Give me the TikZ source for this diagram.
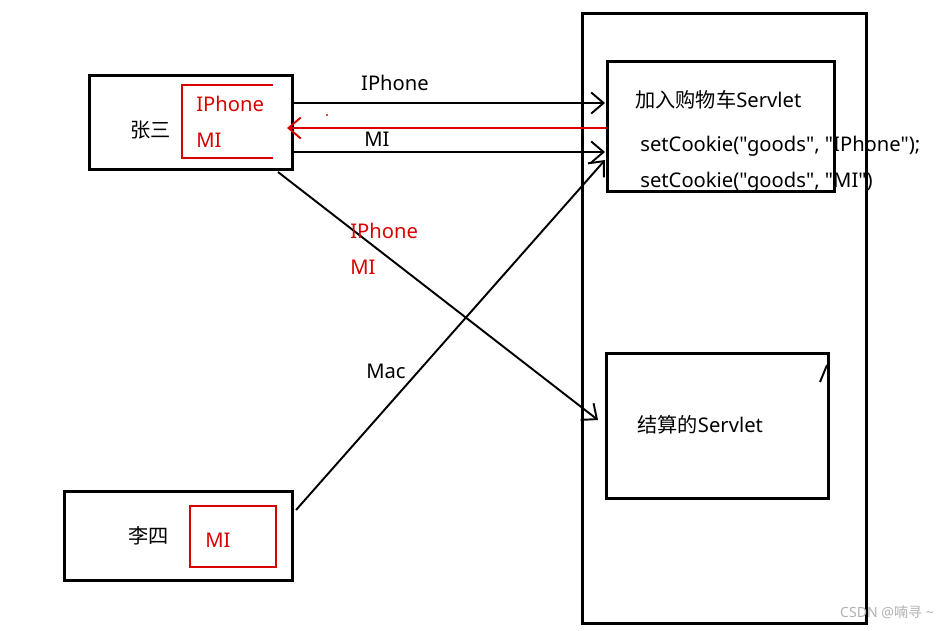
\documentclass[tikz,border=0pt]{standalone}
\usepackage{fontspec}
\setmainfont{Noto Sans}
\newfontfamily\cjk{Noto Sans CJK SC}
\newfontfamily\plainfont{Noto Sans}[Ligatures=ResetAll]
\usetikzlibrary{arrows.meta}
\begin{document}
\begin{tikzpicture}[x=0.02cm,y=-0.02cm,
 box/.style={draw=black,line width=1.7pt},
 rbox/.style={draw=red!85!black,line width=1.1pt},
 con/.style={line width=1.1pt,-{Straight Barb[length=7pt,width=12pt]}},
 lbl/.style={font=\fontsize{11.5}{13}\selectfont,inner sep=0pt},
 rlbl/.style={lbl,text=red!85!black}]
\useasboundingbox (0,0) rectangle (945,630);
\draw[box] (582,13) rectangle (866,623);
\node[box,minimum width=203*0.02cm,minimum height=94*0.02cm,anchor=north west] (zs) at (88,74) {};
\node[lbl,anchor=west] (zst) at (130,130) {\cjk 张三};
\draw[rbox] (273,85) -- (182,85) -- (182,158) -- (273,158);
\node[rlbl,anchor=west] (ip1) at (196,104) {IPhone};
\node[rlbl,anchor=west] (mi1) at (196,140) {MI};
\node[box,minimum width=228*0.02cm,minimum height=89*0.02cm,anchor=north west] (ls) at (63,490) {};
\node[lbl,anchor=west] (lst) at (128,536) {\cjk 李四};
\node[rbox,minimum width=86*0.02cm,minimum height=61*0.02cm,anchor=north west] (lsr) at (189,505) {};
\node[rlbl,anchor=west] (mi2) at (205,540) {MI};
\node[box,minimum width=227*0.02cm,minimum height=130*0.02cm,anchor=north west] (cart) at (606,60) {};
\node[lbl,anchor=west] (ct) at (635,100) {{\cjk 加入购物车}Servlet};
\node[lbl,anchor=west] (sc1) at (640,146) {\plainfont setCookie("goods", "IPhone");};
\node[lbl,anchor=west] (sc2) at (640,182) {\plainfont setCookie("goods", "MI")};
\node[box,minimum width=222*0.02cm,minimum height=145*0.02cm,anchor=north west] (pay) at (605,352) {};
\node[lbl,anchor=west] (pt) at (637,425) {{\cjk 结算的}Servlet};
\draw[line width=1.1pt] (827,365) -- (820,382);
\coordinate (a1) at (293,103); \coordinate (b1) at (605,103);
\draw[con] (a1) -- (b1);
\node[lbl] (l1) at (395,83) {IPhone};
\coordinate (a2) at (607,128); \coordinate (b2) at (287,128);
\draw[con,red!85!black] (a2) -- (b2);
\fill[red!85!black] (327,115) circle (1.2);
\coordinate (a3) at (293,152); \coordinate (b3) at (605,152);
\draw[con] (a3) -- (b3);
\node[lbl] (l3) at (377,139) {MI};
\coordinate (a4) at (278,172); \coordinate (b4) at (598,420);
\draw[con] (a4) -- (b4);
\node[rlbl,anchor=west] (l4a) at (350,231) {IPhone};
\node[rlbl,anchor=west] (l4b) at (350,267) {MI};
\coordinate (a5) at (296,510); \coordinate (b5) at (605,160);
\draw[con] (a5) -- (b5);
\node[lbl] (l5) at (386,371) {Mac};
\node[font=\fontsize{8}{9}\selectfont,text=gray!60,anchor=east] (wm) at (940,612) {CSDN @{\cjk 喃寻} \textasciitilde};
\end{tikzpicture}
\end{document}
